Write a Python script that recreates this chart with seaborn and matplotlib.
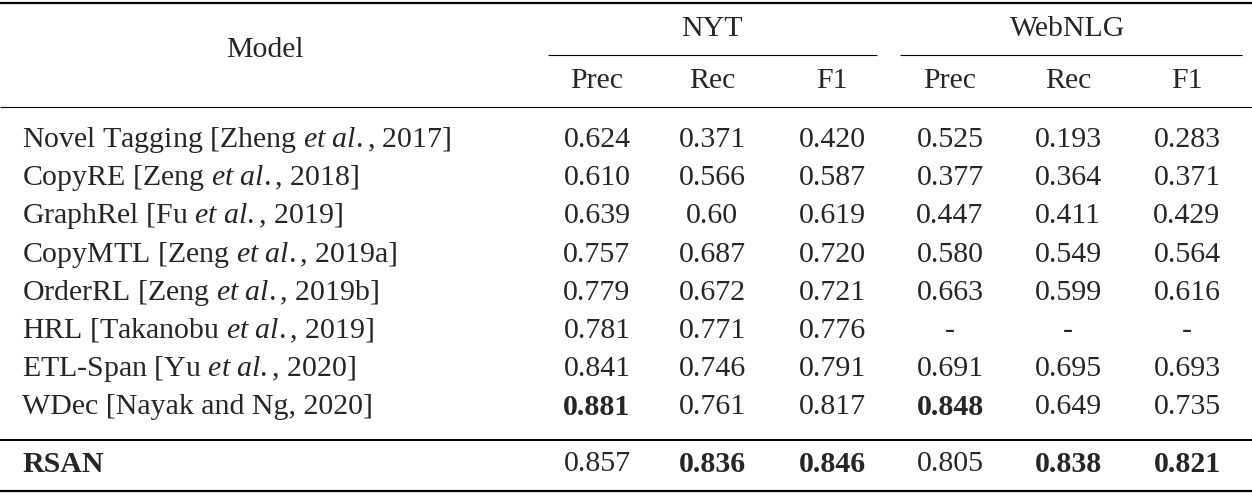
import matplotlib
matplotlib.use("Agg")
import matplotlib.pyplot as plt
import seaborn as sns

sns.set_theme(style="white")
plt.rcParams['font.family'] = ['Liberation Serif', 'DejaVu Serif']
plt.rcParams['mathtext.fontset'] = 'custom'
plt.rcParams['mathtext.rm'] = 'Liberation Serif'
plt.rcParams['mathtext.it'] = 'Liberation Serif:italic'
plt.rcParams['mathtext.bf'] = 'Liberation Serif:bold'

models = [
    r"Novel Tagging [Zheng $\mathit{et\ al.}$, 2017]",
    r"CopyRE [Zeng $\mathit{et\ al.}$, 2018]",
    r"GraphRel [Fu $\mathit{et\ al.}$, 2019]",
    r"CopyMTL [Zeng $\mathit{et\ al.}$, 2019a]",
    r"OrderRL [Zeng $\mathit{et\ al.}$, 2019b]",
    r"HRL [Takanobu $\mathit{et\ al.}$, 2019]",
    r"ETL-Span [Yu $\mathit{et\ al.}$, 2020]",
    r"WDec [Nayak and Ng, 2020]",
]
nyt_prec = ["0.624", "0.610", "0.639", "0.757", "0.779", "0.781", "0.841", "0.881"]
nyt_rec = ["0.371", "0.566", "0.60", "0.687", "0.672", "0.771", "0.746", "0.761"]
nyt_f1 = ["0.420", "0.587", "0.619", "0.720", "0.721", "0.776", "0.791", "0.817"]
web_prec = ["0.525", "0.377", "0.447", "0.580", "0.663", "-", "0.691", "0.848"]
web_rec = ["0.193", "0.364", "0.411", "0.549", "0.599", "-", "0.695", "0.649"]
web_f1 = ["0.283", "0.371", "0.429", "0.564", "0.616", "-", "0.693", "0.735"]
rsan = ["0.857", "0.836", "0.846", "0.805", "0.838", "0.821"]
rsan_bold = [False, True, True, False, True, True]
# bold cells in the baseline rows: (row, col)
bold_cells = {(7, 0), (7, 3)}
sub_headers = ["Prec", "Rec", "F1", "Prec", "Rec", "F1"]

fig = plt.figure(figsize=(12.52, 4.95), dpi=100)
ax = fig.add_axes([0, 0, 1, 1])
ax.set_xlim(0, 1252)
ax.set_ylim(495, 0)
ax.axis('off')

fs = 21.5
col_x = [597, 712, 832, 950, 1068, 1187]
ax.text(265, 50, "Model", fontsize=fs, ha='center', va='center')
ax.text(712, 29, "NYT", fontsize=fs, ha='center', va='center')
ax.text(1068, 29, "WebNLG", fontsize=fs, ha='center', va='center')
for x, h in zip(col_x, sub_headers):
    ax.text(x, 81, h, fontsize=fs, ha='center', va='center')

cols = [nyt_prec, nyt_rec, nyt_f1, web_prec, web_rec, web_f1]
for i, m in enumerate(models):
    y = 140 + i * 38.2
    ax.text(22, y, m, fontsize=fs, ha='left', va='center')
    for j, c in enumerate(cols):
        ax.text(col_x[j], y, c[i], fontsize=fs, ha='center', va='center',
                fontweight='bold' if (i, j) in bold_cells else 'normal')
ax.text(22, 464, "RSAN", fontsize=fs, ha='left', va='center', fontweight='bold')
for j, v in enumerate(rsan):
    ax.text(col_x[j], 464, v, fontsize=fs, ha='center', va='center',
            fontweight='bold' if rsan_bold[j] else 'normal')

ax.hlines(3, 0, 1252, color='black', lw=1.6)
ax.hlines(55, 548, 877, color='black', lw=0.8)
ax.hlines(55, 900, 1242, color='black', lw=0.8)
ax.hlines(107, 0, 1252, color='black', lw=0.8)
ax.hlines(440, 0, 1252, color='black', lw=1.4)
ax.hlines(491, 0, 1252, color='black', lw=1.6)

fig.savefig("out.png", dpi=100)
